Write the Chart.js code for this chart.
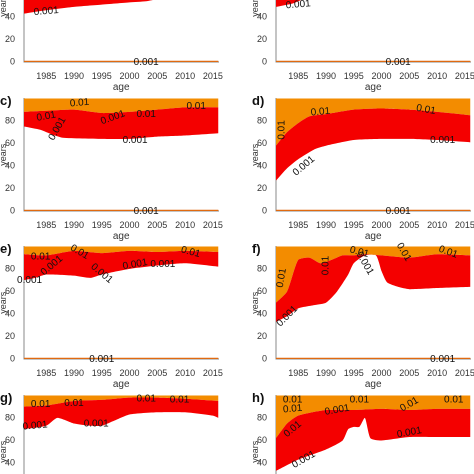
<!DOCTYPE html>
<html>
<head>
<meta charset="utf-8">
<script src="https://cdn.jsdelivr.net/npm/chart.js@4.4.0/dist/chart.umd.min.js"></script>
<style>
  body { margin: 0; background: #fff; width: 474px; height: 474px; overflow: hidden; position: relative; font-family: "Liberation Sans", Arial, sans-serif; }
  canvas { position: absolute; }
  .tag { position: absolute; font: bold 13px "Liberation Sans", Arial, sans-serif; color: #111; }
</style>
</head>
<body>
<script>
// ===== DATA ===== //
const xTicks = [1985, 1990, 1995, 2000, 2005, 2010, 2015];
const yTicks = [0, 20, 40, 60, 80];

// red region lower / upper edge per panel [year, years]
const redLowA = [[1981,43],[1985,46],[1990,49],[1995,51],[2000,53],[2003,54],[2005,56],[2008,60],[2016,60]];
const redHighA = [[1981,100],[2016,100]];
const redLowB = [[1981,49],[1984,52],[1986,56],[1990,60],[2016,60]];
const redHighB = [[1981,100],[2016,100]];
const redLowC = [[1981,75],[1984,72],[1986,68],[1988,65],[1995,64],[2000,64],[2005,66],[2010,67],[2016,69]];
const redHighC = [[1981,88],[1985,89],[1990,90],[1995,87],[2000,88],[2005,90],[2010,92],[2016,92]];
const redLowD = [[1981,27],[1983,38],[1985,46],[1988,55],[1990,58],[1995,63],[2000,64],[2005,64],[2010,63],[2016,61]];
const redHighD = [[1981,58],[1983,70],[1985,78],[1987,84],[1990,86],[1995,90],[2000,91],[2005,90],[2010,88],[2016,85]];
const redLowE = [[1981,70],[1983,72],[1985,75],[1990,74],[1993,72],[1995,75],[2000,80],[2005,83],[2010,85],[2016,82]];
const redHighE = [[1981,93],[1985,92],[1990,96],[1995,94],[2000,96],[2005,95],[2010,96],[2016,95]];
const redLowF = [[1981,33],[1983,38],[1985,45],[1988,48],[1990,50],[1992,60],[1994,75],[1995,85],[1997,92],[1999,92],[2000,78],[2001,68],[2003,64],[2005,62],[2010,63],[2016,64]];
const redHighF = [[1981,50],[1983,60],[1985,88],[1987,90],[1989,85],[1991,88],[1993,92],[1995,92],[1997,93],[2000,92],[2005,90],[2010,93],[2016,92]];
const redLowG = [[1981,70],[1985,73],[1987,80],[1990,75],[1993,73],[1995,73],[1997,77],[2000,83],[2005,85],[2010,85],[2015,82],[2016,80]];
const redHighG = [[1981,90],[1985,91],[1990,95],[1995,96],[2000,98],[2005,98],[2010,97],[2016,95]];
const redLowH = [[1981,33],[1985,43],[1990,52],[1993,60],[1994,70],[1995,72],[1996,72],[1997,80],[1998,62],[2000,60],[2005,63],[2010,63],[2016,63]];
const redHighH = [[1981,62],[1983,75],[1985,82],[1990,87],[1995,87],[2000,88],[2005,87],[2010,88],[2016,88]];

// contour labels [year, years, text, rotation]
const labelsA = [[1985,45,'0.001',-5],[2003,0,'0.001',0]];
const labelsB = [[1985,51,'0.001',-5],[2003,0,'0.001',0]];
const labelsC = [[1991,96,'0.01',-5],[2012,93,'0.01',0],[1985,84,'0.01',-10],[2003,86,'0.01',0],[1987,73,'0.001',-60],[1997,83,'0.001',-20],[2001,63,'0.001',0],[2003,0,'0.001',0]];
const labelsD = [[1989,88,'0.01',-5],[2008,90,'0.01',10],[1982,72,'0.01',-90],[1986,40,'0.001',-40],[2011,63,'0.001',0],[2003,0,'0.001',0]];
const labelsE = [[1984,91,'0.01',0],[1991,95,'0.01',30],[2011,95,'0.01',15],[1982,70,'0.001',0],[1986,83,'0.001',-40],[1995,76,'0.001',40],[2001,84,'0.001',-10],[2006,84,'0.001',0],[1995,0,'0.001',0]];
const labelsF = [[1982,72,'0.01',-80],[1990,83,'0.01',-90],[1996,95,'0.01',15],[2004,95,'0.01',60],[2012,95,'0.01',20],[1983,38,'0.001',-45],[1997,85,'0.001',60],[2011,0,'0.001',0]];
const labelsG = [[1984,92,'0.01',0],[1990,93,'0.01',0],[2003,97,'0.01',0],[2009,96,'0.01',0],[1983,73,'0.001',-5],[1994,75,'0.001',0]];
const labelsH = [[1984,96,'0.01',0],[1984,88,'0.01',-5],[1996,96,'0.01',0],[1984,70,'0.01',-40],[2005,92,'0.01',-30],[2013,96,'0.01',0],[1992,87,'0.001',-10],[2005,67,'0.001',-10],[1986,43,'0.001',-30]];

const panels = [
    { tag: 'a)', low: redLowA, high: redHighA, labels: labelsA, left: -2,  top: -57 },
    { tag: 'b)', low: redLowB, high: redHighB, labels: labelsB, left: 250, top: -57 },
    { tag: 'c)', low: redLowC, high: redHighC, labels: labelsC, left: -2,  top: 92 },
    { tag: 'd)', low: redLowD, high: redHighD, labels: labelsD, left: 250, top: 92 },
    { tag: 'e)', low: redLowE, high: redHighE, labels: labelsE, left: -2,  top: 240 },
    { tag: 'f)', low: redLowF, high: redHighF, labels: labelsF, left: 250, top: 240 },
    { tag: 'g)', low: redLowG, high: redHighG, labels: labelsG, left: -2,  top: 389 },
    { tag: 'h)', low: redLowH, high: redHighH, labels: labelsH, left: 250, top: 389 }
];

const pts = arr => arr.map(p => ({ x: p[0], y: p[1] }));

// ===== CONTOUR TEXT PLUGIN ===== //
const contourText = {
    id: 'contourText',
    afterDatasetsDraw(chart, args, opts) {
        const { ctx, scales: { x, y } } = chart;
        ctx.save();
        ctx.font = '10px "Liberation Sans", Arial, sans-serif';
        ctx.fillStyle = '#111';
        ctx.textAlign = 'center';
        ctx.textBaseline = 'middle';
        opts.items.forEach(l => {
            ctx.save();
            ctx.translate(x.getPixelForValue(l[0]), y.getPixelForValue(l[1]));
            ctx.rotate(l[3] * Math.PI / 180);
            ctx.fillText(l[2], 0, 0);
            ctx.restore();
        });
        ctx.restore();
    }
};

// ===== BUILD ===== //
panels.forEach(p => {
    const cv = document.createElement('canvas');
    cv.width = 226; cv.height = 150;
    cv.style.left = p.left + 'px';
    cv.style.top = p.top + 'px';
    cv.style.width = '226px'; cv.style.height = '150px';
    document.body.appendChild(cv);

    const tag = document.createElement('div');
    tag.className = 'tag';
    tag.textContent = p.tag;
    tag.style.left = (p.left + 2) + 'px';
    tag.style.top = (p.top + 1) + 'px';
    document.body.appendChild(tag);

    new Chart(cv.getContext('2d'), {
        type: 'line',
        data: {
            datasets: [
                { data: pts(p.low), borderWidth: 0, pointRadius: 0, fill: false, tension: 0.2 },
                { data: pts(p.high), borderWidth: 0, pointRadius: 0, fill: '-1', backgroundColor: '#f40000', tension: 0.2 },
                { data: [{ x: 1981, y: 100 }, { x: 2016, y: 100 }], borderWidth: 0, pointRadius: 0, fill: '-1', backgroundColor: '#f38c00' },
                { data: [{ x: 1981, y: 0.4 }, { x: 2016, y: 0.4 }], borderColor: '#e06a10', borderWidth: 1.5, pointRadius: 0, fill: false }
            ]
        },
        options: {
            responsive: false,
            animation: false,
            devicePixelRatio: 2,
            layout: { padding: { top: 6, right: 5, left: 0, bottom: 0 } },
            plugins: { legend: { display: false }, tooltip: { enabled: false }, contourText: { items: p.labels } },
            scales: {
                x: {
                    type: 'linear', min: 1981, max: 2016,
                    afterBuildTicks: s => { s.ticks = xTicks.map(v => ({ value: v })); },
                    afterFit: s => { s.height = 31; },
                    grid: { display: false },
                    border: { color: '#888' },
                    ticks: { color: '#333', font: { size: 9 }, padding: 1, maxRotation: 0, callback: v => String(v) },
                    title: { display: true, text: 'age', color: '#333', font: { size: 10 }, padding: 0 }
                },
                y: {
                    min: 0, max: 100,
                    afterBuildTicks: s => { s.ticks = yTicks.map(v => ({ value: v })); },
                    afterFit: s => { s.width = 26; },
                    grid: { display: false },
                    border: { color: '#888' },
                    ticks: { color: '#333', font: { size: 9 }, padding: 1 },
                    title: { display: true, text: 'years', color: '#333', font: { size: 9 }, padding: 0 }
                }
            }
        },
        plugins: [contourText]
    });
});
</script>
</body>
</html>
